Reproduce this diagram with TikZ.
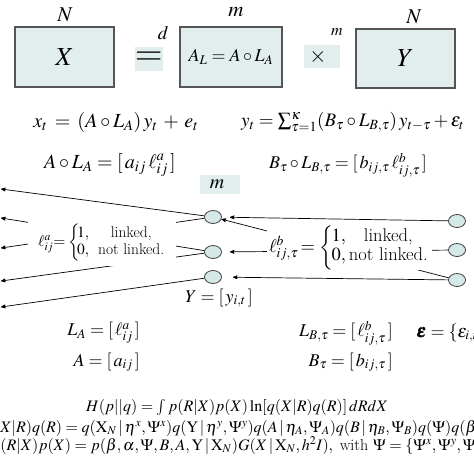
\documentclass[tikz,border=0pt]{standalone}
\usepackage{amsmath}
\usepackage{mathptmx}
\usepackage{tikz}
\usetikzlibrary{arrows}
\usetikzlibrary{shapes.geometric}
\definecolor{boxfill}{HTML}{E2EEEE}
\definecolor{unitfill}{HTML}{D4E8E8}
\definecolor{boxline}{HTML}{555555}
\newcommand{\setfs}[1]{\fontsize{#1}{#1}\selectfont}
\tikzset{
  mat/.style={draw=boxline, line width=1.3pt, fill=boxfill, inner sep=0pt},
  unit/.style={ellipse, draw=black!75, fill=unitfill, line width=0.8pt, minimum width=17pt, minimum height=13pt, inner sep=0pt},
  link/.style={black, line width=0.7pt, ->, >=stealth'},
  mask/.style={fill=white, inner sep=0pt}
}

\begin{document}
\begin{tikzpicture}[x=1pt, y=-1pt, inner sep=0pt]
\clip (0,0) rectangle (474,474);
\fill[white] (0,0) rectangle (474,474);

\node[mat, minimum width=99pt, minimum height=60pt] (X) at (64.5,57) {\setfs{26}$X$};
\node[mat, minimum width=102pt, minimum height=60pt] (AL) at (231,57) {\setfs{18}$A_L = A\circ L_A$};
\node[mat, minimum width=99pt, minimum height=59pt] (Y) at (405.5,58.5) {\setfs{26}$Y$};
\node (nx) at (65,15) {\setfs{21}$N$};
\node (ma) at (236,12) {\setfs{21}$m$};
\node (ny) at (414,17) {\setfs{21}$N$};
\node (d) at (163,33) {\setfs{19}$d$};
\node (my) at (337,32) {\setfs{16}$m$};
\fill[boxfill] (135,47) rectangle (163,71);
\node (eq) at (149,59) {\setfs{38}\textbf{=}};
\fill[boxfill] (304,45) rectangle (340,68);
\node (times) at (318,57) {\setfs{22}$\times$};

\node (e1) at (116,122) {\setfs{20}$x_t \:=\: (A\circ L_A)\,y_t \:+\: e_t$};
\node[anchor=west] (e2) at (241,122) {\setfs{19}$y_t = \sum_{\tau=1}^{\kappa}(B_\tau\circ L_{B,\tau})\,y_{t-\tau} + \varepsilon_t$};
\node (e3) at (110,165) {\setfs{20}$A\circ L_A = [\,a_{ij}\,\ell^a_{ij}\,]$};
\node (e4) at (348,165) {\setfs{18}$B_\tau\circ L_{B,\tau} = [\,b_{ij,\tau}\,\ell^b_{ij,\tau}\,]$};

\fill[boxfill] (200,175) rectangle (240,194);
\node (mm) at (217,184) {\setfs{20}$m$};

\foreach \n/\y in {1/217,2/252,3/277}
  \node[unit] (l\n) at (213,\y) {};
\foreach \n/\y in {1/221,2/250,3/280}
  \node[unit] (r\n) at (457,\y) {};
\foreach \n/\y in {1/189,2/218,3/248,4/281,5/307}
  \coordinate (t\n) at (1,\y);

\draw[link] (l1) -- (t1);
\draw[link] (l2) -- (t2);
\draw[link] (l1) -- (t3);
\draw[link] (l2) -- (t4);
\draw[link] (l3) -- (t5);
\draw[link, shorten >=8pt] (r1) -- (l1);
\draw[link] (r3) -- (l1);
\draw[link, shorten >=8pt] (r2) -- (l2);
\draw[link, shorten >=11pt] (r3) -- (l3);

\node[mask, minimum width=148pt, minimum height=47pt, anchor=east] (la) at (176,242.5) {\fontsize{15.5}{17.5}\selectfont
  $\ell^a_{ij}{=}\,\left\{\!\!\begin{array}{@{}l@{\hspace{9pt}}c@{}} 1, & \text{linked,}\\ 0, & \text{not linked.}\end{array}\right.$};
\node[mask, minimum width=165pt, minimum height=45pt] (lb) at (349,247.5) {\fontsize{18.5}{19}\selectfont
  $\ell^b_{ij,\tau}\:{=}\:\left\{\!\begin{array}{@{}l@{\hspace{3pt}}c@{}} 1, & \text{linked,}\\ 0, & \text{not linked.}\end{array}\right.$};

\node (yy) at (219,298) {\setfs{18}$Y = [\,y_{i,t}\,]$};

\node[anchor=east] (la2) at (140,333) {\setfs{18}$L_A = [\,\ell^a_{ij}\,]$};
\node[anchor=east] (aa) at (140,362) {\setfs{18}$A = [\,a_{ij}\,]$};
\node[anchor=east] (lb2) at (393,333) {\setfs{18}$L_{B,\tau} = [\,\ell^b_{ij,\tau}\,]$};
\node[anchor=east] (bb) at (393,362) {\setfs{18}$B_\tau = [\,b_{ij,\tau}\,]$};
\node[anchor=west] (eps) at (417,333) {\setfs{18}$\pmb{\varepsilon} = \{\varepsilon_{i,t}\}$};

\node (h) at (237,407) {\setfs{16}$H(p||q) = \int p(R|X)p(X)\ln[q(X|R)q(R)]\,dRdX$};
\node[anchor=base west] (q) at (62,432) {\setfs{16}$\llap{$q(X|R)q(R)$}= q(\mathrm{X}_N\,|\,\eta^x,\Psi^x)q(\mathrm{Y}\,|\,\eta^y,\Psi^y)q(A\,|\,\eta_A,\Psi_A)q(B\,|\,\eta_B,\Psi_B)q(\Psi)q(\beta)$};
\node[anchor=base west] (p) at (71,450) {\setfs{16}$\llap{$p(R|X)p(X)$}= p(\beta,\alpha,\Psi,B,A,\mathrm{Y}\,|\,\mathrm{X}_N)G(X\,|\,\mathrm{X}_N,h^2I),\ \text{with}\ \Psi=\{\Psi^x,\Psi^y,\Psi^A,\Psi^B\}$};
\end{tikzpicture}
\end{document}
